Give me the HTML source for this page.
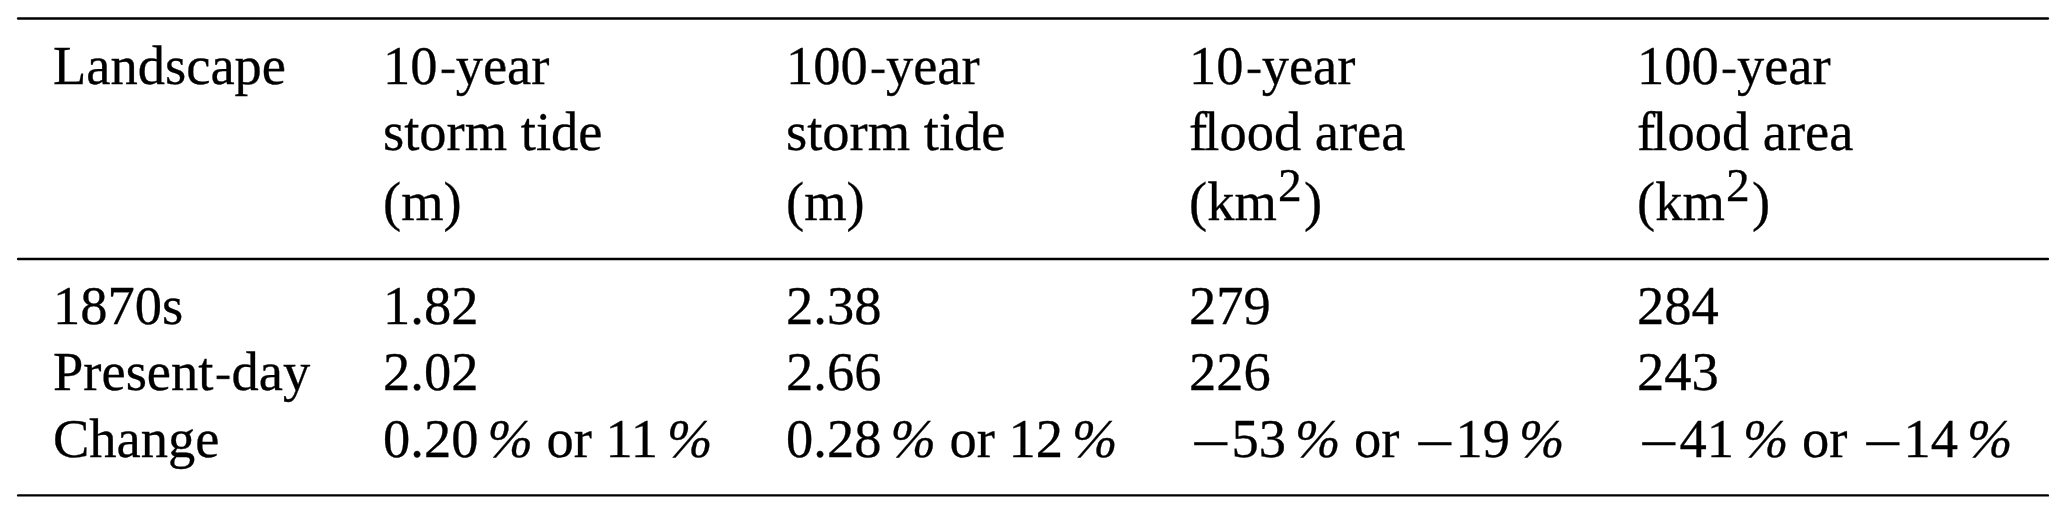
<!DOCTYPE html>
<html lang="en"><head><meta charset="utf-8"><title>Table</title>
<style>
html,body{margin:0;padding:0;background:#fff;}
body{width:2067px;height:515px;position:relative;overflow:hidden;
 font-family:"Liberation Serif","Times New Roman",serif;font-size:54.5px;color:#000;-webkit-text-stroke:0.3px #000;}
.t{position:absolute;white-space:nowrap;line-height:60px;height:60px;}
.ts{display:inline-block;width:0.1667em;}
i{font-style:italic;}
sup{font-size:0.87em;vertical-align:19.5px;line-height:0;display:inline-block;will-change:transform;margin:0 2.6px 0 0.8px;}
.fl{letter-spacing:-2.9px;}
.hy{display:inline-block;transform:scale(0.9,0.74);transform-origin:100% 36.1px;will-change:transform;}
.mn{display:inline-block;width:0.778em;text-align:center;transform:translate(0.6px,0.092em) scaleX(1.3);line-height:0;}
</style></head><body>
<svg width="2067" height="515" viewBox="0 0 2067 515" style="position:absolute;left:0;top:0">
<line x1="18.1" y1="18.5" x2="2047.9" y2="18.5" stroke="#000" stroke-width="2.4" stroke-linecap="round"/>
<line x1="18.1" y1="259.0" x2="2047.9" y2="259.0" stroke="#000" stroke-width="2.4" stroke-linecap="round"/>
<line x1="18.1" y1="495.4" x2="2047.9" y2="495.4" stroke="#000" stroke-width="2.4" stroke-linecap="round"/>
</svg>
<div class="t" style="left:53px;top:35.61px">Landscape</div>
<div class="t" style="left:383px;top:35.61px">10<span class="hy">-</span>year</div>
<div class="t" style="left:383px;top:101.61px">storm tide</div>
<div class="t" style="left:383px;top:172.31px">(m)</div>
<div class="t" style="left:786px;top:35.61px">100<span class="hy">-</span>year</div>
<div class="t" style="left:786px;top:101.61px">storm tide</div>
<div class="t" style="left:786px;top:172.31px">(m)</div>
<div class="t" style="left:1189px;top:35.61px">10<span class="hy">-</span>year</div>
<div class="t" style="left:1189px;top:101.61px"><span class='fl'>f</span>lood area</div>
<div class="t" style="left:1189px;top:172.31px">(km<sup>2</sup>)</div>
<div class="t" style="left:1637px;top:35.61px">100<span class="hy">-</span>year</div>
<div class="t" style="left:1637px;top:101.61px"><span class='fl'>f</span>lood area</div>
<div class="t" style="left:1637px;top:172.31px">(km<sup>2</sup>)</div>
<div class="t" style="left:53px;top:275.51px">1870s</div>
<div class="t" style="left:383px;top:275.51px">1.82</div>
<div class="t" style="left:786px;top:275.51px">2.38</div>
<div class="t" style="left:1189px;top:275.51px">279</div>
<div class="t" style="left:1637px;top:275.51px">284</div>
<div class="t" style="left:53px;top:342.41px">Present<span class="hy">-</span>day</div>
<div class="t" style="left:383px;top:342.41px">2.02</div>
<div class="t" style="left:786px;top:342.41px">2.66</div>
<div class="t" style="left:1189px;top:342.41px">226</div>
<div class="t" style="left:1637px;top:342.41px">243</div>
<div class="t" style="left:53px;top:409.21px">Change</div>
<div class="t" style="left:383px;top:409.21px">0.20<span class="ts"></span><i>%</i> or 11<span class="ts"></span><i>%</i></div>
<div class="t" style="left:786px;top:409.21px">0.28<span class="ts"></span><i>%</i> or 12<span class="ts"></span><i>%</i></div>
<div class="t" style="left:1189px;top:409.21px"><span class='mn'>−</span>53<span class="ts"></span><i>%</i> or <span class='mn'>−</span>19<span class="ts"></span><i>%</i></div>
<div class="t" style="left:1637px;top:409.21px"><span class='mn'>−</span>41<span class="ts"></span><i>%</i> or <span class='mn'>−</span>14<span class="ts"></span><i>%</i></div>
</body></html>
